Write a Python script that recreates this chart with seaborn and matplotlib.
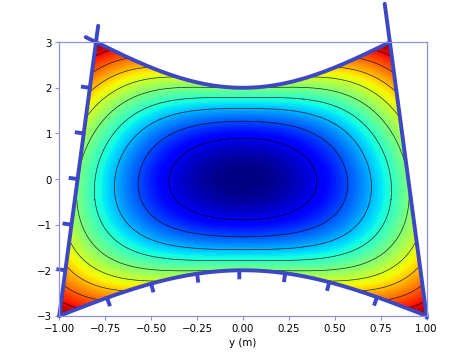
import numpy as np
import matplotlib
matplotlib.use("Agg")
import matplotlib.pyplot as plt
import seaborn as sns

# mapped grid: computational (xi, eta) in [-1, 1] -> physical (x, y)
half_width_mid = 0.9      # x half-width at eta = 0
width_taper = 0.1         # half-width shrinks toward the top edge
edge_height = [2.0, 3.0]  # |y| of top/bottom edge at xi = 0 and at xi = +-1
line_levels = [0.2, 0.4, 0.6, 0.8, 1.0, 1.2, 1.4, 1.6, 1.8]

# parameter ranges of the boundary lines that are drawn
left_eta = [-1.0, 1.12]
right_eta = [-1.013, 1.28]
top_xi = [-1.07, 1.0]
bottom_xi = [-1.0, 1.0]

# where the little hatch ticks sit
left_tick_y = [-2.0, -1.0, 0.0, 1.0, 2.0]
bottom_tick_x = [-0.74, -0.5, -0.25, -0.02, 0.23, 0.47, 0.73]

x_ticks = [-1.0, -0.75, -0.5, -0.25, 0.0, 0.25, 0.5, 0.75, 1.0]
y_ticks = [-3, -2, -1, 0, 1, 2, 3]

line_col = "#3d46c4"
frame_col = "#8f8fda"


def to_xy(xi, eta):
    h = edge_height[1] - (edge_height[1] - edge_height[0]) * np.cos(np.pi * xi / 2)
    x = xi * (half_width_mid - width_taper * eta)
    y = eta * h
    return x, y


plt.rcParams["font.family"] = ["DejaVu Sans"]

# 6.4 x 4.8 in at 74 dpi -> 474 x 355 px
fig, ax = plt.subplots(figsize=(6.4, 4.8), dpi=74.0625)

xi, eta = np.meshgrid(np.linspace(-1, 1, 301), np.linspace(-1, 1, 301))
X, Y = to_xy(xi, eta)
Z = xi ** 2 + eta ** 2

ax.contourf(X, Y, Z, levels=120, cmap="jet", vmin=0, vmax=2)
ax.contour(X, Y, Z, levels=line_levels, colors="k", linewidths=0.7, alpha=0.8)

# boundary lines (they run a bit past the frame)
t = np.linspace(0, 1, 200)
curves = [
    to_xy(np.full_like(t, -1.0), left_eta[0] + t * (left_eta[1] - left_eta[0])),
    to_xy(np.full_like(t, 1.0), right_eta[0] + t * (right_eta[1] - right_eta[0])),
    to_xy(top_xi[0] + t * (top_xi[1] - top_xi[0]), np.full_like(t, 1.0)),
    to_xy(bottom_xi[0] + t * (bottom_xi[1] - bottom_xi[0]), np.full_like(t, -1.0)),
]
for cx, cy in curves:
    sns.lineplot(x=cx, y=cy, sort=False, estimator=None, color=line_col,
                 linewidth=3.8, ax=ax, solid_capstyle="round", clip_on=False)

ax.set_xlim(-1, 1)
ax.set_ylim(-3, 3)
ax.set_xticks(x_ticks)
ax.set_yticks(y_ticks)
ax.set_xlabel("y (m)")
ax.set_ylabel("")
for s in ax.spines.values():
    s.set_color(frame_col)
    s.set_linewidth(1.2)
ax.tick_params(color=frame_col, width=1.1, labelcolor="black")

# hatch ticks, pointing outward, length in pixels
tick_px = 9
trans = ax.transData
inv = trans.inverted()
eps = 1e-4
tick_sets = [(np.full(len(left_tick_y), -1.0), np.array(left_tick_y) / edge_height[1], "eta", 1),
             (np.array(bottom_tick_x), np.full(len(bottom_tick_x), -1.0), "xi", -1)]
for a, b, along, side in tick_sets:
    for p, q in zip(a, b):
        p0 = trans.transform(to_xy(p, q))
        if along == "eta":
            p1 = trans.transform(to_xy(p, q + eps))
        else:
            p1 = trans.transform(to_xy(p + eps, q))
        tx, ty = (p1 - p0) / np.hypot(*(p1 - p0))
        nx, ny = (-ty, tx) if side == 1 else (ty, -tx)
        start = inv.transform(p0 - 1.5 * np.array([nx, ny]))
        end = inv.transform(p0 + tick_px * np.array([nx, ny]))
        ax.plot([start[0], end[0]], [start[1], end[1]], color=line_col,
                linewidth=3.8, solid_capstyle="butt", clip_on=False)

fig.savefig("out.png", dpi=74.0625)
